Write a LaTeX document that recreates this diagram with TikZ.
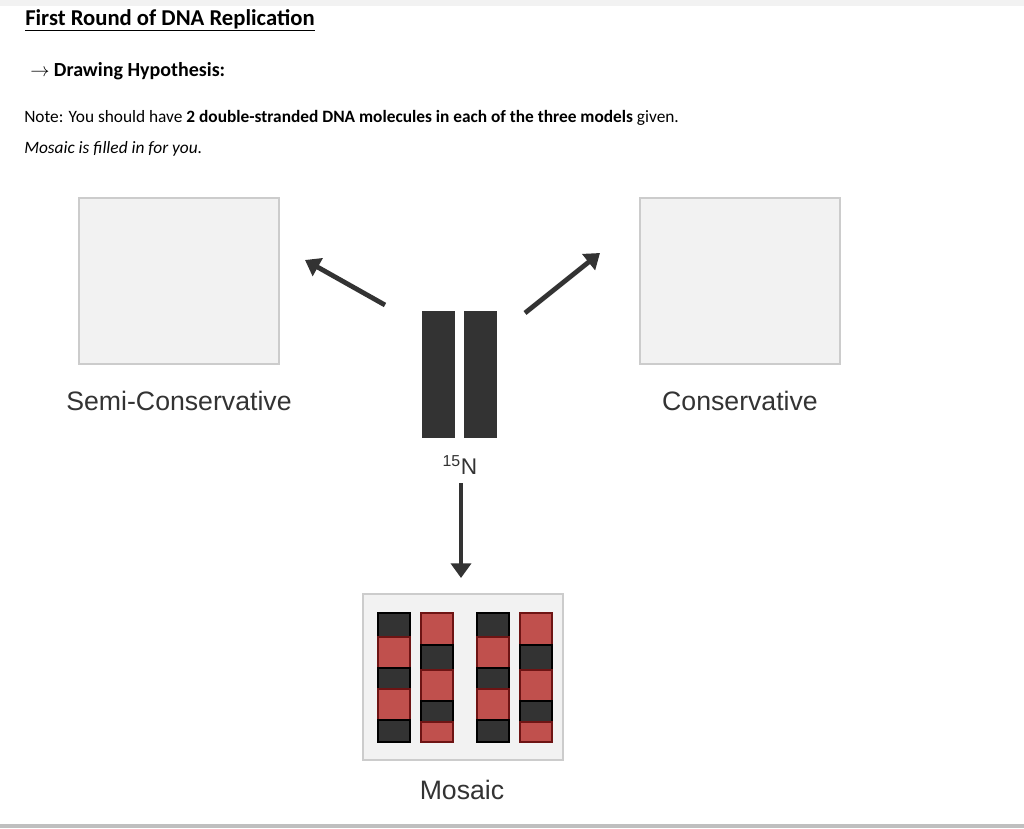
\documentclass[tikz,border=0pt]{standalone}
\usepackage{fontspec}
\setmainfont{Carlito}
\newfontfamily\arialf{Liberation Sans}
\usetikzlibrary{arrows.meta}
\definecolor{dk}{HTML}{333333}
\definecolor{rd}{HTML}{C0504D}
\definecolor{rdb}{HTML}{6E1414}
\definecolor{bx}{HTML}{F2F2F2}
\definecolor{bxb}{HTML}{CCCCCC}
\tikzset{
 box/.style={draw=bxb,fill=bx,line width=1.2pt},
 arr/.style={line width=3.6pt,draw=dk,-{Triangle[length=11pt,width=15pt]}},
 dseg/.style={fill=dk,draw=black,line width=0.8pt},
 rseg/.style={fill=rd,draw=rdb,line width=0.8pt},
 lab/.style={font=\arialf\fontsize{20}{24}\selectfont,text=dk},
 doc/.style={anchor=base west,inner sep=0pt,font=\fontsize{13}{16}\selectfont}
}
\begin{document}
\begin{tikzpicture}[x=0.75pt,y=-0.75pt]
\useasboundingbox (0,0) rectangle (1024,828);
\fill[white] (0,0) rectangle (1024,828);
\fill[gray!10] (0,0) rectangle (1024,6);
\fill[gray!50] (0,824) rectangle (1024,828);
\node[doc,font=\bfseries\fontsize{17}{20}\selectfont] (t) at (25,25) {\underline{First Round of DNA Replication}};
\node[doc,font=\bfseries\fontsize{15}{18}\selectfont] (h) at (30,76) {$\rightarrow$ Drawing Hypothesis:};
\node[doc] (n1) at (24,122) {Note: You should have \textbf{2 double-stranded DNA molecules in each of the three models} given.};
\node[doc,font=\itshape\fontsize{13}{16}\selectfont] (n2) at (24,153) {Mosaic is filled in for you.};
\draw[box] (79,198) rectangle (279,364);
\draw[box] (640,198) rectangle (840,364);
\node[lab] (sc) at (179,401) {Semi-Conservative};
\node[lab] (c) at (740,401) {Conservative};
\fill[dk] (422,311) rectangle (455,438);
\fill[dk] (464,311) rectangle (497,438);
\node[font=\arialf\fontsize{17}{20}\selectfont,text=dk] (n) at (460,465) {\textsuperscript{15}N};
\coordinate (a1) at (385,305); \coordinate (b1) at (305,260);
\coordinate (a2) at (525,313); \coordinate (b2) at (600,253);
\coordinate (a3) at (461,483); \coordinate (b3) at (461,578);
\draw[arr] (a1) -- (b1);
\draw[arr] (a2) -- (b2);
\draw[arr] (a3) -- (b3);
\draw[box] (363,594) rectangle (563,760);
\foreach \x in {378,477}{
 \draw[dseg] (\x,613) rectangle ++(32,24);
 \draw[rseg] (\x,637) rectangle ++(32,31);
 \draw[dseg] (\x,668) rectangle ++(32,21);
 \draw[rseg] (\x,689) rectangle ++(32,31);
 \draw[dseg] (\x,720) rectangle ++(32,22);
}
\foreach \x in {421,520}{
 \draw[rseg] (\x,613) rectangle ++(32,32);
 \draw[dseg] (\x,645) rectangle ++(32,25);
 \draw[rseg] (\x,670) rectangle ++(32,31);
 \draw[dseg] (\x,701) rectangle ++(32,21);
 \draw[rseg] (\x,722) rectangle ++(32,20);
}
\node[lab] (m) at (462,790) {Mosaic};
\end{tikzpicture}
\end{document}
